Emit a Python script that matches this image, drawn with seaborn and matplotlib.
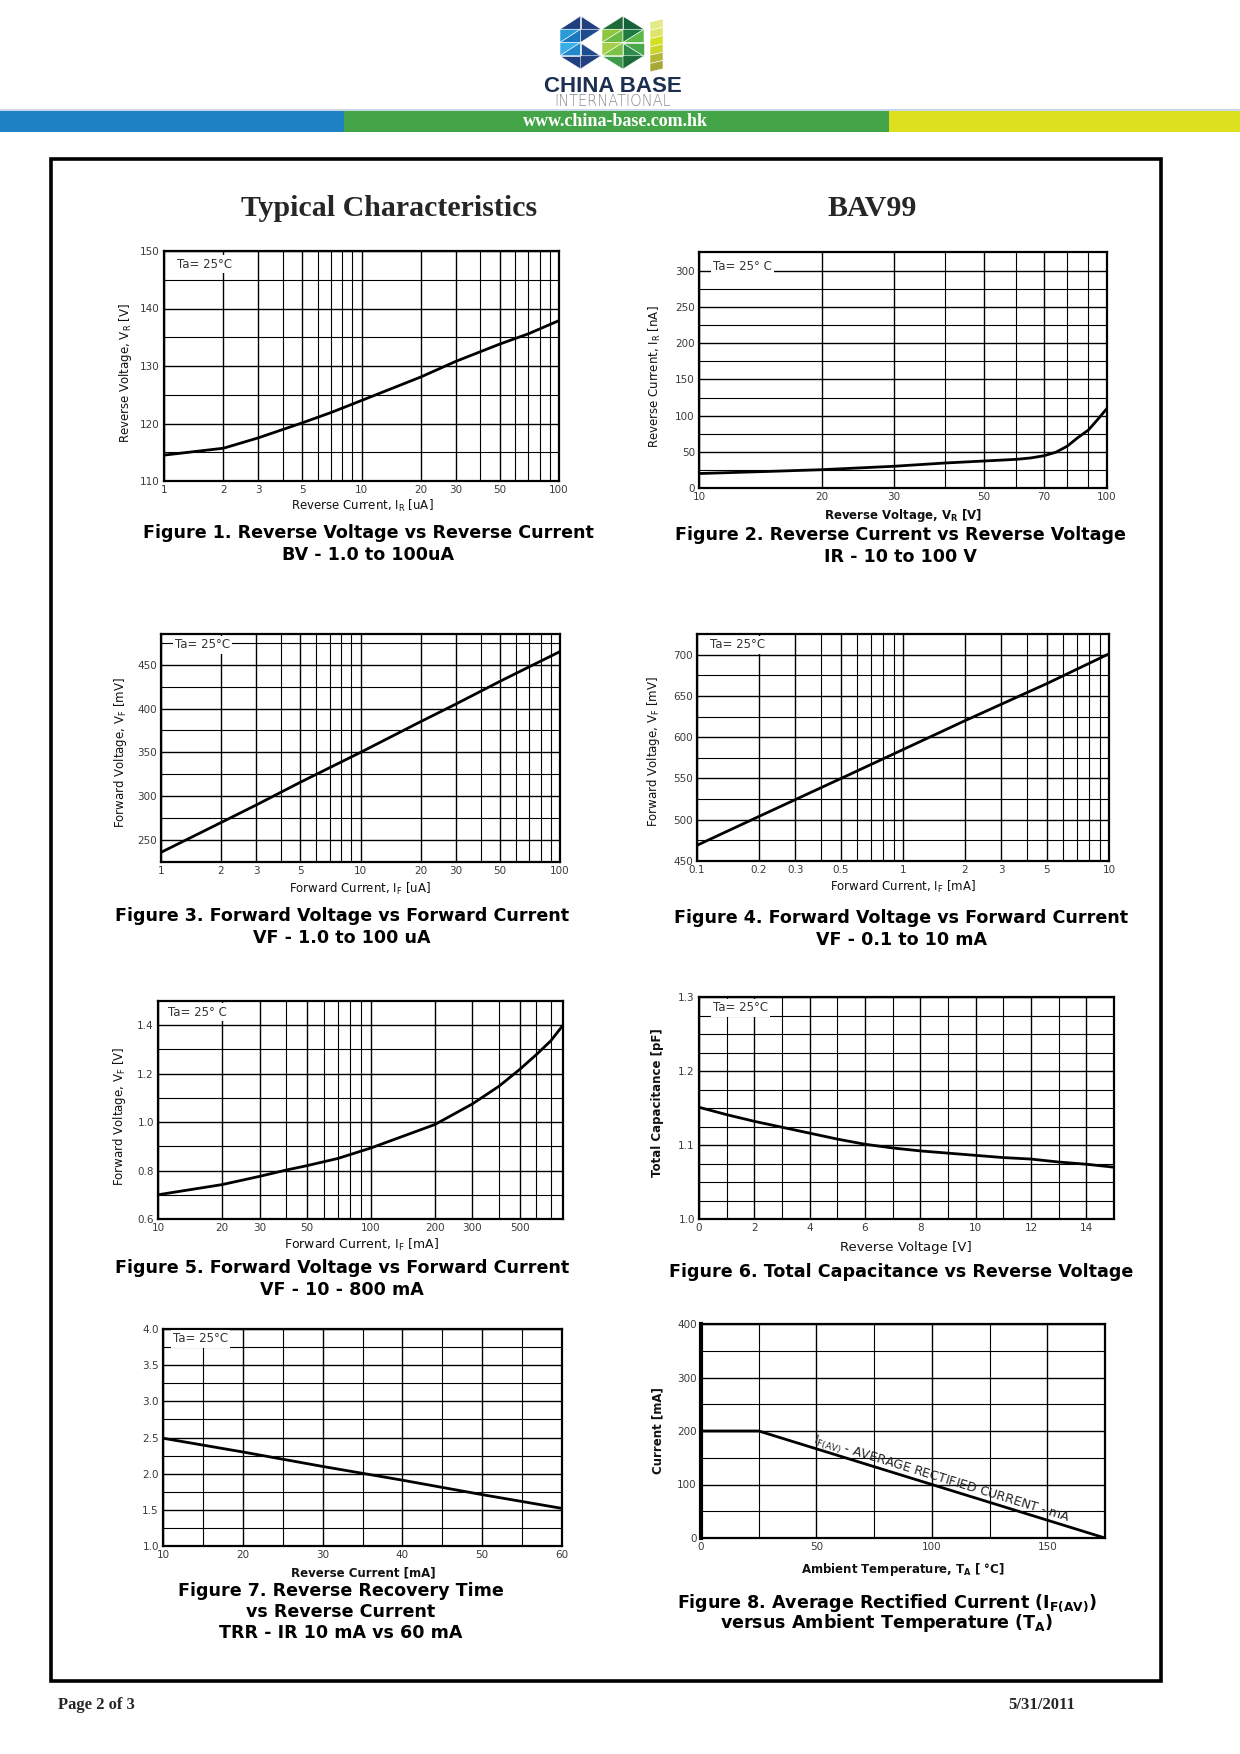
import numpy as np
import matplotlib
matplotlib.use("Agg")
import matplotlib.pyplot as plt
from matplotlib.patches import Rectangle, Polygon
from matplotlib.ticker import NullFormatter
import seaborn as sns

W, H = 1240, 1754

# ---- curve data ----
fig1_ir = [1, 2, 3, 5, 7, 10, 20, 30, 50, 70, 100]
fig1_vr = [114.5, 115.7, 117.5, 120.1, 121.9, 124.0, 128.1, 130.8, 133.8, 135.6, 137.9]

fig2_vr = [10, 15, 20, 30, 40, 50, 60, 65, 70, 75, 80, 85, 90, 95, 100]
fig2_ir = [20, 23, 25.3, 30, 34.5, 37.3, 39.6, 41.5, 44.5, 49.5, 58, 70, 80, 95, 110]

fig3_if = [1, 2, 3, 5, 10, 20, 30, 50, 100]
fig3_vf = [236, 270, 290, 316, 350, 385, 405, 431, 465]

fig4_if = [0.1, 0.2, 0.5, 1, 2, 5, 10]
fig4_vf = [469, 504, 550, 585, 620, 665, 701]

fig5_if = [10, 20, 30, 40, 50, 70, 100, 200, 300, 400, 500, 600, 700, 800]
fig5_vf = [0.70, 0.742, 0.776, 0.802, 0.82, 0.85, 0.893, 0.99, 1.075, 1.148, 1.217, 1.279, 1.335, 1.40]

fig6_vr = [0, 1, 2, 3, 4, 5, 6, 7, 8, 9, 10, 11, 12, 13, 14, 15]
fig6_ct = [1.151, 1.141, 1.132, 1.124, 1.116, 1.108, 1.101, 1.096, 1.092, 1.089, 1.086, 1.083, 1.081, 1.077, 1.074, 1.070]

fig7_ir = [10, 20, 30, 40, 50, 60]
fig7_trr = [2.49, 2.30, 2.10, 1.91, 1.71, 1.52]

fig8_ta = [0, 25, 175]
fig8_if = [200, 200, 0]

sns.set_theme(style="white")
plt.rcParams["font.family"] = ["DejaVu Sans"]
plt.rcParams["mathtext.default"] = "regular"
SERIF = ["Liberation Serif", "DejaVu Serif"]
ARIAL = ["Liberation Sans", "DejaVu Sans"]

fig = plt.figure(figsize=(W / 100, H / 100), dpi=100)
page = fig.add_axes([0, 0, 1, 1])
page.set_xlim(0, W)
page.set_ylim(H, 0)
page.axis("off")


def panel(box, xs, ys, xlim, ylim, xmaj, xlbl, xmin, ymaj, ylbl, ymin, logx=False):
    x0, y0, x1, y1 = box
    ax = fig.add_axes([x0 / W, 1 - y1 / H, (x1 - x0) / W, (y1 - y0) / H])
    sns.lineplot(x=xs, y=ys, ax=ax, color="black", linewidth=2.0, zorder=5)
    if logx:
        ax.set_xscale("log")
    ax.set_xlim(*xlim)
    ax.set_ylim(*ylim)
    ax.set_xticks(xmaj, xlbl)
    ax.set_xticks(xmin, minor=True)
    ax.set_yticks(ymaj, ylbl)
    ax.set_yticks(ymin, minor=True)
    ax.xaxis.set_minor_formatter(NullFormatter())
    ax.yaxis.set_minor_formatter(NullFormatter())
    ax.tick_params(which="both", length=0, labelsize=7.5, labelcolor="#3a3a3a", pad=3)
    ax.grid(True, which="major", color="black", linewidth=1.0)
    ax.grid(True, which="minor", color="black", linewidth=0.8)
    ax.set_axisbelow(True)
    for sp in ax.spines.values():
        sp.set_visible(True)
        sp.set_color("black")
        sp.set_linewidth(1.6)
    ax.set_xlabel("")
    ax.set_ylabel("")
    return ax


def labels(ax, box, xl, xpos, yl=None, ypos=None, xbold=False, ybold=False, xsize=8.5, ysize=8.5):
    x0, y0, x1, y1 = box
    ax.set_xlabel(xl, fontsize=xsize, fontweight="bold" if xbold else "normal", color="#111")
    ax.xaxis.set_label_coords((xpos[0] - x0) / (x1 - x0), (y1 - xpos[1]) / (y1 - y0))
    ax.xaxis.label.set_va("center")
    if yl:
        ax.set_ylabel(yl, fontsize=ysize, fontweight="bold" if ybold else "normal", color="#111")
        ax.yaxis.set_label_coords((ypos[0] - x0) / (x1 - x0), (y1 - ypos[1]) / (y1 - y0))
        ax.yaxis.label.set_va("center")
        ax.yaxis.label.set_ha("center")


def ta(ax, dx, dy, s="Ta= 25°C"):
    ax.annotate(s, xy=(0, 1), xycoords="axes fraction", xytext=(dx, -dy),
                textcoords="offset pixels", ha="left", va="center", fontsize=8.5,
                color="#333", bbox=dict(fc="white", ec="none", pad=1.5), zorder=6)


def caption(x, y, lines, dy=22):
    for i, s in enumerate(lines):
        page.text(x, y + i * dy, s, ha="center", va="center", fontsize=12.6,
                  fontweight="bold", color="black")


# ---- header ----
page.add_patch(Rectangle((0, 109), W, 1.5, color="#c9d6e3", lw=0))
page.add_patch(Rectangle((0, 111), 344, 21, color="#1e82c4", lw=0))
page.add_patch(Rectangle((344, 111), 545, 21, color="#43a547", lw=0))
page.add_patch(Rectangle((889, 111), W - 889, 21, color="#dde01f", lw=0))
page.text(615, 121.5, "www.china-base.com.hk", ha="center", va="center", color="white",
          family=SERIF, fontweight="bold", fontsize=13)
page.text(613, 86, "CHINA BASE", ha="center", va="center", color="#1c2f50",
          family=ARIAL, fontweight="bold", fontsize=16)
page.text(613, 101.5, "INTERNATIONAL", ha="center", va="center", color="#8a8a8a",
          fontsize=10.5, fontweight="light")


def hex_letter(L, R, T, B, cols, skip=()):
    xm = (L + R) / 2
    ys = [T + (B - T) * f for f in (0, 0.25, 0.5, 0.75, 1)]

    def P(c, r):
        return ([L, xm, R][c], ys[r])
    tris = [
        (P(1, 0), P(0, 1), P(1, 1)), (P(1, 0), P(1, 1), P(2, 1)),
        (P(0, 1), P(1, 1), P(0, 2)), (P(1, 1), P(0, 2), P(1, 2)),
        (P(1, 1), P(2, 1), P(1, 2)), (P(2, 1), P(1, 2), P(2, 2)),
        (P(0, 2), P(1, 2), P(0, 3)), (P(1, 2), P(0, 3), P(1, 3)),
        (P(1, 2), P(1, 3), P(2, 3)), (P(1, 2), P(2, 2), P(2, 3)),
        (P(0, 3), P(1, 3), P(1, 4)), (P(1, 3), P(2, 3), P(1, 4)),
    ]
    for i, t in enumerate(tris):
        if i in skip:
            continue
        page.add_patch(Polygon(t, closed=True, fc=cols[i % len(cols)], ec="white", lw=0.4))


hex_letter(560, 601, 16, 69, ["#1f3f7f", "#23407e", "#2a9bd8", "#1b78c0", "#1f4b8f",
                              "#2a5d9f", "#39aee8", "#2288cc", "#1f4b8f", "#2a5d9f",
                              "#1f3f7f", "#23407e"], skip=(5, 9))
hex_letter(602, 644, 16, 69, ["#1e6b3a", "#16603a", "#8dc63f", "#6bb843", "#1e7a40",
                              "#5cb848", "#a4cf4a", "#7cc242", "#2e8b4a", "#4aa84a",
                              "#3d9a48", "#1e6b3a"])
for k, c in enumerate(["#e4e98a", "#dfe46a", "#d4e021", "#cbd62a", "#b3b838", "#a6a838"]):
    yt = 19 + k * 8.3
    page.add_patch(Polygon([(650, yt + 3), (663, yt), (663, yt + 8.3), (650, yt + 11.3)],
                           closed=True, fc=c, ec="white", lw=0.4))

# ---- frame and titles ----
page.add_patch(Rectangle((51, 159), 1110, 1522, fill=False, ec="black", lw=2.6))
page.text(389, 209, "Typical Characteristics", ha="center", va="center", family=SERIF,
          fontweight="bold", fontsize=21.5)
page.text(872, 209, "BAV99", ha="center", va="center", family=SERIF,
          fontweight="bold", fontsize=21.5)
page.text(58, 1705, "Page 2 of 3", ha="left", va="center", family=SERIF,
          fontweight="bold", fontsize=12)
page.text(1075, 1705, "5/31/2011", ha="right", va="center", family=SERIF,
          fontweight="bold", fontsize=12)

# ---- Figure 1 ----
b1 = (164, 251, 559, 481)
ax1 = panel(b1, fig1_ir, fig1_vr, (1, 100), (110, 150),
            [1, 2, 3, 5, 10, 20, 30, 50, 100], ["1", "2", "3", "5", "10", "20", "30", "50", "100"],
            [4, 6, 7, 8, 9, 40, 60, 70, 80, 90],
            [110, 120, 130, 140, 150], ["110", "120", "130", "140", "150"],
            [115, 125, 135, 145], logx=True)
labels(ax1, b1, "Reverse Current, I$_R$ [uA]", (362, 506),
       "Reverse Voltage, V$_R$ [V]", (125, 373))
ta(ax1, 13, 13)
caption(368, 533, ["Figure 1. Reverse Voltage vs Reverse Current", "BV - 1.0 to 100uA"])

# ---- Figure 2 ----
b2 = (699, 252, 1107, 488)
ax2 = panel(b2, fig2_vr, fig2_ir, (10, 100), (0, 326),
            [10, 20, 30, 50, 70, 100], ["10", "20", "30", "50", "70", "100"],
            [40, 60, 80, 90],
            [0, 50, 100, 150, 200, 250, 300], ["0", "50", "100", "150", "200", "250", "300"],
            [25, 75, 125, 175, 225, 275], logx=True)
labels(ax2, b2, "Reverse Voltage, V$_R$ [V]", (903, 516),
       "Reverse Current, I$_R$ [nA]", (655, 377), xbold=True)
ta(ax2, 14, 14, "Ta= 25° C")
caption(900, 535, ["Figure 2. Reverse Current vs Reverse Voltage", "IR - 10 to 100 V"])

# ---- Figure 3 ----
b3 = (161, 634, 560, 862)
ax3 = panel(b3, fig3_if, fig3_vf, (1, 100), (225, 485),
            [1, 2, 3, 5, 10, 20, 30, 50, 100], ["1", "2", "3", "5", "10", "20", "30", "50", "100"],
            [4, 6, 7, 8, 9, 40, 60, 70, 80, 90],
            [250, 300, 350, 400, 450], ["250", "300", "350", "400", "450"],
            [275, 325, 375, 425, 475], logx=True)
labels(ax3, b3, "Forward Current, I$_F$ [uA]", (360, 889),
       "Forward Voltage, V$_F$ [mV]", (120, 753))
ta(ax3, 14, 11)
caption(342, 916, ["Figure 3. Forward Voltage vs Forward Current", "VF - 1.0 to 100 uA"])

# ---- Figure 4 ----
b4 = (697, 634, 1109, 861)
ax4 = panel(b4, fig4_if, fig4_vf, (0.1, 10), (450, 725),
            [0.1, 0.2, 0.3, 0.5, 1, 2, 3, 5, 10],
            ["0.1", "0.2", "0.3", "0.5", "1", "2", "3", "5", "10"],
            [0.4, 0.6, 0.7, 0.8, 0.9, 4, 6, 7, 8, 9],
            [450, 500, 550, 600, 650, 700], ["450", "500", "550", "600", "650", "700"],
            [475, 525, 575, 625, 675], logx=True)
labels(ax4, b4, "Forward Current, I$_F$ [mA]", (903, 887),
       "Forward Voltage, V$_F$ [mV]", (654, 752))
ta(ax4, 13, 11, "Ta= 25°C")
caption(901, 918, ["Figure 4. Forward Voltage vs Forward Current", "VF - 0.1 to 10 mA"])

# ---- Figure 5 ----
b5 = (158, 1001, 563, 1219)
ax5 = panel(b5, fig5_if, fig5_vf, (10, 800), (0.6, 1.5),
            [10, 20, 30, 50, 100, 200, 300, 500],
            ["10", "20", "30", "50", "100", "200", "300", "500"],
            [40, 60, 70, 80, 90, 400, 600, 700],
            [0.6, 0.8, 1.0, 1.2, 1.4], ["0.6", "0.8", "1.0", "1.2", "1.4"],
            [0.7, 0.9, 1.1, 1.3], logx=True)
labels(ax5, b5, "Forward Current, I$_F$ [mA]", (361, 1245),
       "Forward Voltage, V$_F$ [V]", (119, 1116), xsize=9)
ta(ax5, 10, 11, "Ta= 25° C")
caption(342, 1268, ["Figure 5. Forward Voltage vs Forward Current", "VF - 10 - 800 mA"])

# ---- Figure 6 ----
b6 = (699, 997, 1114, 1219)
ax6 = panel(b6, fig6_vr, fig6_ct, (0, 15), (1.0, 1.3),
            [0, 2, 4, 6, 8, 10, 12, 14], ["0", "2", "4", "6", "8", "10", "12", "14"],
            [1, 3, 5, 7, 9, 11, 13, 15],
            [1.0, 1.1, 1.2, 1.3], ["1.0", "1.1", "1.2", "1.3"],
            [1.025, 1.05, 1.075, 1.125, 1.15, 1.175, 1.225, 1.25, 1.275])
labels(ax6, b6, "Reverse Voltage [V]", (906, 1248),
       "Total Capacitance [pF]", (658, 1103), ybold=True, xsize=9.5)
ta(ax6, 14, 11)
caption(901, 1272, ["Figure 6. Total Capacitance vs Reverse Voltage"])

# ---- Figure 7 ----
b7 = (163, 1329, 562, 1546)
ax7 = panel(b7, fig7_ir, fig7_trr, (10, 60), (1.0, 4.0),
            [10, 20, 30, 40, 50, 60], ["10", "20", "30", "40", "50", "60"],
            [15, 25, 35, 45, 55],
            [1.0, 1.5, 2.0, 2.5, 3.0, 3.5, 4.0], ["1.0", "1.5", "2.0", "2.5", "3.0", "3.5", "4.0"],
            [1.25, 1.75, 2.25, 2.75, 3.25, 3.75])
labels(ax7, b7, "Reverse Current [mA]", (363, 1573), xbold=True)
ta(ax7, 10, 10)
caption(341, 1591, ["Figure 7. Reverse Recovery Time", "vs Reverse Current",
                    "TRR - IR 10 mA vs 60 mA"], dy=21)

# ---- Figure 8 ----
b8 = (701, 1324, 1105, 1538)
ax8 = panel(b8, fig8_ta, fig8_if, (0, 175), (0, 400),
            [0, 50, 100, 150], ["0", "50", "100", "150"], [25, 75, 125, 175],
            [0, 100, 200, 300, 400], ["0", "100", "200", "300", "400"], [50, 150, 250, 350])
ax8.spines["left"].set_linewidth(3)
labels(ax8, b8, "Ambient Temperature, T$_A$ [ °C]", (903, 1570),
       "Current [mA]", (658, 1431), xbold=True, ybold=True)
ang = np.degrees(np.arctan2(fig8_if[2] - fig8_if[1], fig8_ta[2] - fig8_ta[1]))
ax8.text(103, 95, "I$_{F(AV)}$ - AVERAGE RECTIFIED CURRENT - mA", rotation=ang,
         transform_rotates_text=True, rotation_mode="anchor", ha="center", va="bottom",
         fontsize=9, color="#222")
caption(887, 1603, ["Figure 8. Average Rectified Current (I$_{F(AV)}$)",
                    "versus Ambient Temperature (T$_A$)"], dy=20)

fig.savefig("out.png", dpi=100)
